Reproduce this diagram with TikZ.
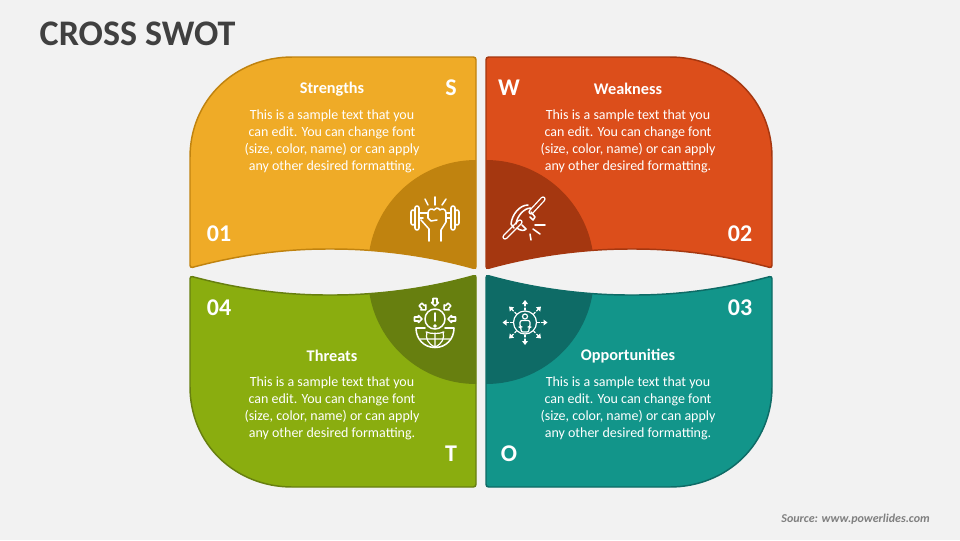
\documentclass[tikz,border=0pt]{standalone}
\usepackage{fontspec}
\setmainfont{Carlito}
\definecolor{pagegrey}{HTML}{F2F2F2}
\definecolor{titlegrey}{HTML}{404040}
\definecolor{sourcegrey}{HTML}{7F7F7F}
\definecolor{yellowfill}{HTML}{EFAB27}
\definecolor{yellowdark}{HTML}{C0830F}
\definecolor{redfill}{HTML}{DC4E1B}
\definecolor{reddark}{HTML}{A53710}
\definecolor{greenfill}{HTML}{8AAD0F}
\definecolor{greendark}{HTML}{677F0F}
\definecolor{tealfill}{HTML}{12958A}
\definecolor{tealdark}{HTML}{0E6B66}
\newcommand{\petalpath}{(190,160) .. controls (190,100) and (235,57) .. (295,57) -- (476,57) -- (476,269) .. controls (430,256) and (380,249) .. (330,249) .. controls (280,249) and (235,256) .. (190,268) -- cycle}
\newcommand{\petal}[3]{%
	\begin{scope}[#1]
		\fill[#2,rounded corners=2pt] \petalpath;
		\begin{scope}
			\clip \petalpath;
			\fill[#3] (476,268) circle (108);
		\end{scope}
		\draw[#3,line width=1.1pt,rounded corners=2pt] \petalpath;
	\end{scope}}
\tikzset{
	heading/.style={text=white,font=\fontsize{12.2}{14}\selectfont\bfseries},
	bodytext/.style={text=white,align=center,font=\fontsize{10.5}{12.75}\selectfont},
	letter/.style={text=white,font=\fontsize{18}{20}\selectfont\bfseries},
	icon/.style={draw=white,line width=1.15pt,line cap=round,line join=round},
	thinicon/.style={icon,line width=.9pt},
}
\begin{document}
\begin{tikzpicture}[x=.75pt,y=-.75pt]
	\fill[pagegrey] (0,0) rectangle (960,540);
	\node[anchor=west,text=titlegrey,font=\fontsize{27}{30}\selectfont\bfseries] (title) at (35,34) {CROSS SWOT};
	\node[anchor=east,text=sourcegrey,font=\fontsize{9}{11}\selectfont\bfseries\itshape] (source) at (934.5,519) {Source: www.powerlides.com};
	% the four petals
	\petal{}{yellowfill}{yellowdark}
	\petal{shift={(962,0)},xscale=-1}{redfill}{reddark}
	\petal{shift={(0,544)},yscale=-1}{greenfill}{greendark}
	\petal{shift={(962,544)},xscale=-1,yscale=-1}{tealfill}{tealdark}
	% strengths
	\node[heading] (strengths) at (332,89) {Strengths};
	\node[bodytext] (strengthstext) at (332,141) {This is a sample text that you\\can edit. You can change font\\(size, color, name) or can apply\\any other desired formatting.};
	\node[letter] (s) at (451,88) {S};
	\node[letter] (n01) at (219,234) {01};
	% weakness
	\node[heading] (weakness) at (628,89) {Weakness};
	\node[bodytext] (weaknesstext) at (628,141) {This is a sample text that you\\can edit. You can change font\\(size, color, name) or can apply\\any other desired formatting.};
	\node[letter] (w) at (509,88) {W};
	\node[letter] (n02) at (740,234) {02};
	% threats
	\node[heading] (threats) at (332,356) {Threats};
	\node[bodytext] (threatstext) at (332,408) {This is a sample text that you\\can edit. You can change font\\(size, color, name) or can apply\\any other desired formatting.};
	\node[letter] (t) at (451,454) {T};
	\node[letter] (n04) at (219,308) {04};
	% opportunities
	\node[heading] (opportunities) at (628,356) {Opportunities};
	\node[bodytext] (opportunitiestext) at (628,408) {This is a sample text that you\\can edit. You can change font\\(size, color, name) or can apply\\any other desired formatting.};
	\node[letter] (o) at (509,454) {O};
	\node[letter] (n03) at (740,308) {03};
	% dumbbell
	\draw[icon,rounded corners=1.5pt] (411,210) rectangle (415,225);
	\draw[icon,rounded corners=1.5pt] (415,206) rectangle (419,230);
	\draw[icon,rounded corners=1.5pt] (451,206) rectangle (455,230);
	\draw[icon,rounded corners=1.5pt] (455,210) rectangle (459,225);
	\draw[icon] (419,213) -- (428,213) (419,218) -- (423,218) (446,213) -- (451,213) (446,218) -- (451,218);
	\draw[icon] (429,241) -- (429,229) -- (421,220) (441,241) -- (441,230) -- (446,222) -- (446,213) .. controls (446,209) and (442,208) .. (440,210) .. controls (438,207) and (435,208) .. (434,210) .. controls (432,208) and (428,209) .. (428,213) -- (428,218) -- (431,221) -- (437,220);
	\draw[icon] (425,199) -- (428,205) (435,197) -- (435,205) (446,199) -- (442,205);
	% broken chain
	\draw[white,line width=4pt,line cap=round] (531,212) -- (543,199);
	\draw[reddark,line width=2pt,line cap=round] (531,212) -- (543,199);
	\draw[white,line width=4pt,line cap=round] (505,237) -- (520,222);
	\draw[reddark,line width=2pt,line cap=round] (505,237) -- (520,222);
	\draw[icon] (528,205) .. controls (520,205) and (512,214) .. (511,224) -- (514,228);
	\draw[icon] (531,208) .. controls (524,208) and (517,216) .. (516,224);
	\draw[icon] (531,212) -- (535,217) -- (533,220) -- (530,217);
	\draw[icon] (517,228) .. controls (520,231) and (525,231) .. (526,229) -- (522,225);
	\draw[icon] (535,225) -- (545,225) (533,229) -- (540,234) (530,234) -- (531,240);
	% person with arrows
	\draw[thinicon] (525,322.5) circle (11.5);
	\draw[thinicon] (525,316.5) circle (2.5);
	\draw[thinicon,rounded corners=1.5pt] (521,332) -- (521,327) -- (520,327) -- (520,320.5) -- (530,320.5) -- (530,327) -- (529,327) -- (529,332) -- cycle;
	\foreach \ang in {0,45,...,315}{
		\draw[thinicon,rotate around={\ang:(525,322.5)}] (537.5,322.5) -- (539.5,322.5) (541.5,322.5) -- (545,322.5);
		\fill[white,rotate around={\ang:(525,322.5)}] (547.5,322.5) -- (543.5,319.5) -- (543.5,325.5) -- cycle;
	}
	% globe and warning
	\draw[icon] (435,319) circle (10);
	\draw[icon] (435,313) -- (435,321);
	\draw[thinicon] (435,326) circle (1.3);
	\draw[icon] (425,328) -- (416,328) .. controls (416,339) and (424,347.5) .. (435,347.5) .. controls (446,347.5) and (454,339) .. (454,328) -- (445,328);
	\draw[thinicon] (435,333) -- (435,347) (427,332) .. controls (425,338) and (428,344) .. (435,347) .. controls (442,344) and (445,338) .. (443,332);
	\draw[thinicon] (420,339) -- (450,339) (426,332) .. controls (431,334) and (439,334) .. (444,332);
	\foreach \ang in {0,45,90,135,180}{
		\draw[icon,rotate around={\ang:(435,319)}] (448,319) -- (451.5,315.5) -- (451.5,317) -- (455.5,317) -- (455.5,321) -- (451.5,321) -- (451.5,322.5) -- cycle;
	}
\end{tikzpicture}
\end{document}
